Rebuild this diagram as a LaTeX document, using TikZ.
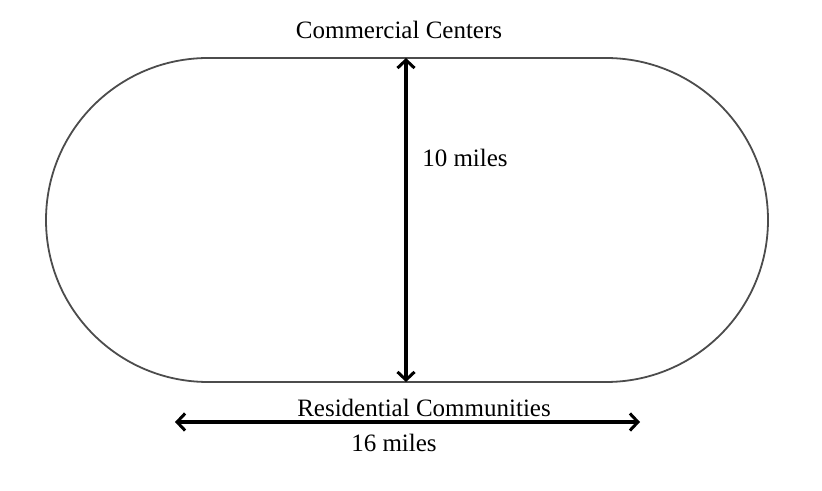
\documentclass[tikz,border=0pt]{standalone}
\usepackage{fontspec}
\setmainfont{Liberation Serif}
\usetikzlibrary{arrows.meta}
\begin{document}
\begin{tikzpicture}[x=1pt,y=1pt,
  outline/.style={draw=black!70,line width=1.8pt},
  dimarrow/.style={line width=3.2pt,{Straight Barb[length=8pt,width=17pt,line width=3pt]}-{Straight Barb[length=8pt,width=17pt,line width=3pt]}},
  lbl/.style={font=\fontsize{25}{29}\selectfont,inner sep=0pt}]
\useasboundingbox (0,0) rectangle (822,490);
\draw[outline] (208,432) -- (606,432) arc (90:-90:162) -- (208,108) arc (270:90:162) -- cycle;
\coordinate (vt) at (406,432);
\coordinate (vb) at (406,108);
\coordinate (hl) at (175,68);
\coordinate (hr) at (640,68);
\draw[dimarrow] (vb) -- (vt);
\draw[dimarrow] (hl) -- (hr);
\node[lbl] (cc) at (399,460) {Commercial Centers};
\node[lbl] (ten) at (465,332) {10 miles};
\node[lbl] (rc) at (424,82) {Residential Communities};
\node[lbl] (sixteen) at (394,47) {16 miles};
\end{tikzpicture}
\end{document}
